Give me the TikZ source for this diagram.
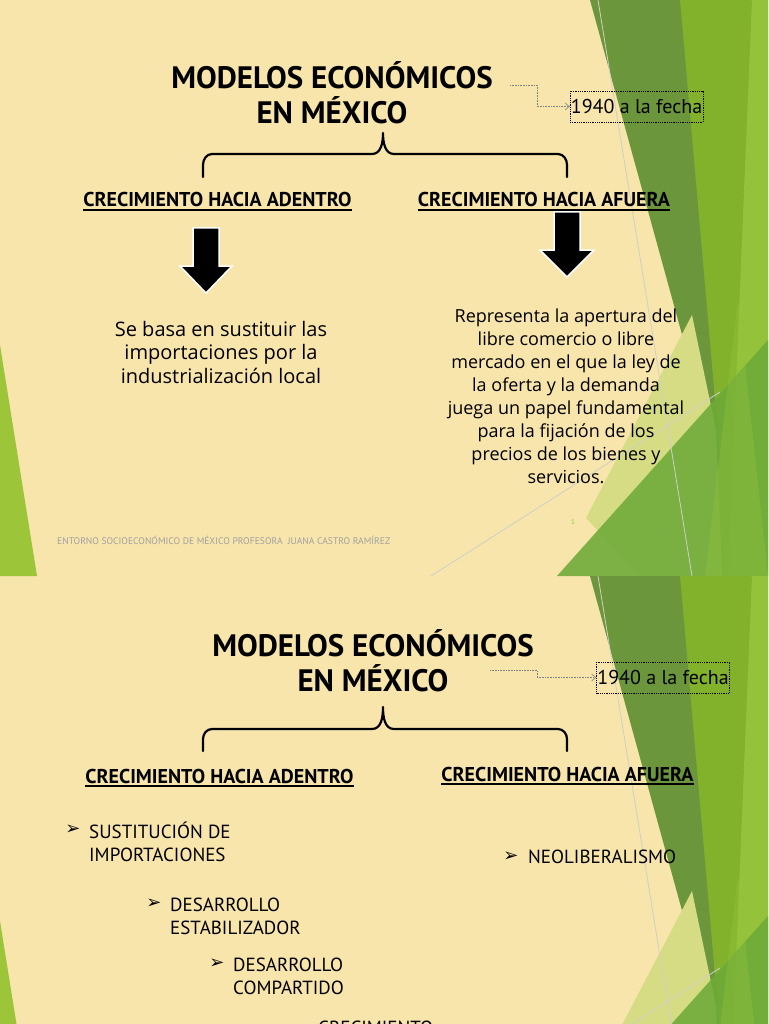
\documentclass[tikz,border=0pt]{standalone}
\usepackage{fontspec}
\setmainfont{PT Sans}
\newfontfamily\bodyfont{Open Sans}
\newfontfamily\symfont{DejaVu Sans}
\usetikzlibrary{arrows.meta}

\definecolor{slidebg}{HTML}{F8E5AC}
\definecolor{golive}{HTML}{6B963B}
\definecolor{gmid}{HTML}{82B22C}
\definecolor{glight}{HTML}{94C33B}
\definecolor{gbottom}{HTML}{6DAA38}
\definecolor{gleft}{HTML}{9CC53A}
\definecolor{gpale}{HTML}{D5DC83}
\definecolor{gline}{HTML}{CFCFC6}
\definecolor{footgray}{HTML}{A0A0A0}
\definecolor{numgreen}{HTML}{8CC63F}

\tikzset{
  title/.style={font=\bfseries\fontsize{31}{35}\selectfont, align=center, inner sep=0pt},
  head/.style={font=\bfseries\fontsize{20}{24}\selectfont, inner sep=0pt, anchor=base},
  uline/.style={line width=1.3pt},
  body/.style={font=\bodyfont\fontsize{18}{23}\selectfont, align=center, inner sep=0pt},
  item/.style={font=\fontsize{19}{23}\selectfont, align=left, inner sep=0pt, anchor=west},
  bul/.style={font=\symfont\fontsize{18}{18}\selectfont, inner sep=0pt},
  datebox/.style={draw, densely dotted, line width=0.8pt, font=\fontsize{20}{24}\selectfont,
    minimum width=133pt, minimum height=31pt, inner sep=0pt},
  dateline/.style={densely dotted, draw=gray, line width=0.6pt,
    -{Straight Barb[length=4pt,width=7pt]}},
  brace/.style={line width=2.2pt, line cap=round, line join=round},
  bigarrow/.style={fill=black, draw=white, line width=1.5pt, line join=miter},
  footer/.style={font=\fontsize{9.6}{11}\selectfont, text=footgray, inner sep=0pt, anchor=west},
}

% theme shapes of one slide, 768 x 576
\newcommand\facetbg{%
  \fill[gleft] (0,345) -- (37,576) -- (0,576) -- cycle;
  \fill[gmid] (680,0) -- (768,0) -- (768,576) -- (690,576) -- cycle;
  \fill[glight] (752,0) -- (768,0) -- (768,576) -- (728,576) -- cycle;
  \fill[golive] (590,0) -- (680,0) -- (722,480) -- cycle;
  \fill[gpale] (692,315) -- (586,518) -- (640,576) -- (722,576) -- (716,430) -- cycle;
  \fill[gbottom, opacity=0.88] (557,576) -- (768,340) -- (768,576) -- cycle;
  \fill[glight, opacity=0.35] (738,300) -- (768,576) -- (705,576) -- cycle;
  \draw[gline, line width=0.8pt] (598,0) -- (692,576);
  \draw[gline, line width=0.8pt] (431,576) -- (720,392);
}

\begin{document}
\begin{tikzpicture}[x=1pt, y=-1pt]
  \useasboundingbox (0,0) rectangle (768,1024);
  \fill[slidebg] (0,0) rectangle (768,1024);

  % slide backgrounds
  \begin{scope}
    \clip (0,0) rectangle (768,576);
    \facetbg
  \end{scope}
  \begin{scope}[shift={(0,576)}]
    \clip (0,0) rectangle (768,448);
    \facetbg
  \end{scope}

  % ---- slide 1 ----
  \node[title] (tit1) at (332,93) {MODELOS ECONÓMICOS\\EN MÉXICO};
  \node[datebox] (db1) at (636.5,106.5) {1940 a la fecha};
  \coordinate (c1) at (510,85);
  \draw[dateline] (c1) -- ++(27,0) |- (db1.west);

  \draw[brace] (203,177) -- (203,165) to[out=90,in=180] (212,154) -- (372,154)
    to[out=0,in=-90] (383,133) to[out=-90,in=180] (394,154) -- (558,154)
    to[out=0,in=90] (567,165) -- (567,177);

  \node[head] (in1) at (217.5,207) {CRECIMIENTO HACIA ADENTRO};
  \node[head] (out1) at (544,207) {CRECIMIENTO HACIA AFUERA};
  \draw[uline] ([yshift=-3pt]in1.base west) -- ([yshift=-3pt]in1.base east);
  \draw[uline] ([yshift=-3pt]out1.base west) -- ([yshift=-3pt]out1.base east);

  \filldraw[bigarrow] (193,228) -- (219,228) -- (219,266) -- (232,266) -- (206,293)
    -- (180,266) -- (193,266) -- cycle;
  \filldraw[bigarrow] (554,212) -- (580,212) -- (580,250) -- (594,250) -- (567,277)
    -- (540,250) -- (554,250) -- cycle;

  \node[body, font=\bodyfont\fontsize{20}{23.5}\selectfont] (txt1) at (221,352) {Se basa en sustituir las\\importaciones por la\\industrialización local};
  \node[body] (txt2) at (566,396) {Representa la apertura del\\libre comercio o libre\\mercado en el que la ley de\\la oferta y la demanda\\juega un papel fundamental\\para la fijación de los\\precios de los bienes y\\servicios.};

  \node[footer] (foot1) at (57,540) {ENTORNO SOCIOECONÓMICO DE MÉXICO PROFESORA\ \ JUANA CASTRO RAMÍREZ};
  \node[font=\fontsize{7}{8}\selectfont, text=numgreen, inner sep=0pt] (num1) at (573,522) {1};

  % ---- slide 2 ----
  \node[title] (tit2) at (373,661) {MODELOS ECONÓMICOS\\EN MÉXICO};
  \node[datebox] (db2) at (663,677.5) {1940 a la fecha};
  \coordinate (c2) at (490,670);
  \draw[dateline] (c2) -- ++(47,0) |- (db2.west);

  \draw[brace] (203,751) -- (203,739) to[out=90,in=180] (212,729) -- (372,729)
    to[out=0,in=-90] (383,707) to[out=-90,in=180] (394,729) -- (558,729)
    to[out=0,in=90] (567,739) -- (567,751);

  \node[head] (in2) at (219.5,783) {CRECIMIENTO HACIA ADENTRO};
  \node[head] (out2) at (567.5,781) {CRECIMIENTO HACIA AFUERA};
  \draw[uline] ([yshift=-3pt]in2.base west) -- ([yshift=-3pt]in2.base east);
  \draw[uline] ([yshift=-3pt]out2.base west) -- ([yshift=-3pt]out2.base east);

  \node[bul] (b1) at (73,830) {➢};
  \node[item] (it1) at (89,842) {SUSTITUCIÓN DE\\IMPORTACIONES};
  \node[bul] (b2) at (154,904) {➢};
  \node[item] (it2) at (170,916) {DESARROLLO\\ESTABILIZADOR};
  \node[bul] (b3) at (217,964) {➢};
  \node[item] (it3) at (233,976) {DESARROLLO\\COMPARTIDO};
  \node[bul] (b4) at (511,857) {➢};
  \node[item] (it4) at (528,857) {NEOLIBERALISMO};
  \node[bul] (b5) at (296,1031) {➢};
  \node[item, anchor=north west] (it5) at (318,1021) {CRECIMIENTO};
\end{tikzpicture}
\end{document}
